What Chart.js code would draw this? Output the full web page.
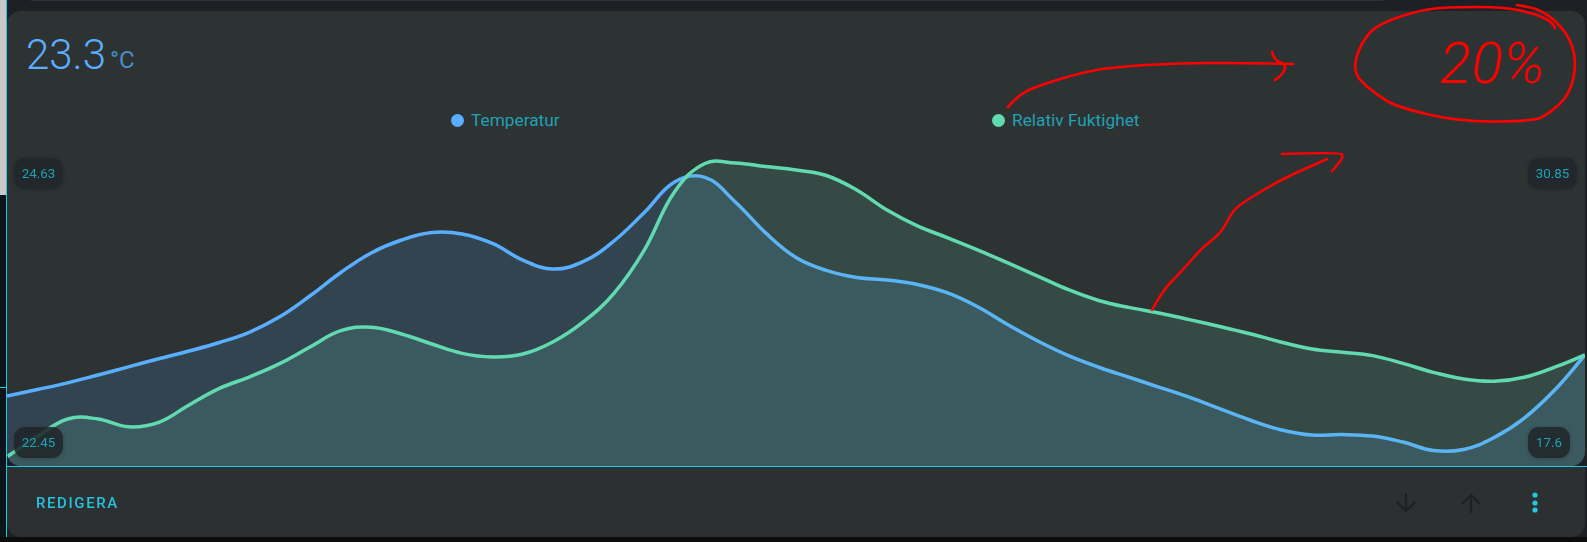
<!DOCTYPE html>
<html>
<head>
<meta charset="utf-8">
<title>Temperatur och Relativ Fuktighet</title>
<script src="https://cdn.jsdelivr.net/npm/chart.js@4/dist/chart.umd.min.js"></script>
<style>
html, body { margin: 0; padding: 0; width: 1587px; height: 542px; overflow: hidden; background: #0d0d0d; font-family: Roboto, sans-serif; }
#top { position: absolute; left: 7px; top: 0; width: 1580px; height: 467px; background: #1f2025; }
#topcard { position: absolute; left: 18px; top: -10px; width: 1364px; height: 11px; background: #2d3233; border-radius: 0 0 8px 8px; }
#strip { position: absolute; left: 0; top: 0; width: 6px; height: 537px; background: #0c151b; }
#stripTop { position: absolute; left: 0; top: 0; width: 6px; height: 195px; background: #c8c8c8; }
#stub { position: absolute; left: 0; top: 387px; width: 6px; height: 1px; background: #25c8e4; }
#vline { position: absolute; left: 6px; top: 0; width: 1px; height: 537px; background: #25c8e4; }
#card { position: absolute; left: 7px; top: 11px; width: 1578px; height: 455px; background: #2d3233; border-radius: 14px; overflow: hidden; }
#plot { position: absolute; left: 0; top: 139px; width: 1578px; height: 316px; }
#hline { position: absolute; left: 7px; top: 466px; width: 1580px; height: 1px; background: #25c8e4; }
#foot { position: absolute; left: 7px; top: 467px; width: 1578px; height: 70px; background: #2c3030; border-radius: 0 0 14px 14px; }
#footBack { position: absolute; left: 7px; top: 467px; width: 1580px; height: 70px; background: #1f2025; }
#edit { position: absolute; left: 36px; top: 495px; font-size: 15px; font-weight: 500; letter-spacing: 1.6px; line-height: 17px; color: #25c2e0; }
#value { position: absolute; left: 26px; top: 31px; font-size: 42px; font-weight: 300; line-height: 48px; color: #5aaeff; }
#unit { position: absolute; left: 110px; top: 46px; font-size: 24px; font-weight: 400; line-height: 28px; color: #4a8ec4; }
.legend { position: absolute; top: 111px; font-size: 17.3px; line-height: 19px; color: #22a0b4; white-space: nowrap; }
.legend i { position: absolute; left: -20px; top: 3px; width: 13px; height: 13px; border-radius: 50%; }
.bubble { position: absolute; height: 31px; line-height: 31px; text-align: center; font-size: 13.3px; color: #1ea2b6; background: rgba(32,37,41,.88); border-radius: 11px; box-shadow: 0 1px 4px rgba(0,0,0,.2); }
#marks { position: absolute; left: 0; top: 0; }
</style>
</head>
<body>
<div id="top"><div id="topcard"></div></div>
<div id="strip"></div><div id="stripTop"></div><div id="stub"></div>
<div id="card"><div id="plot"><canvas id="chart"></canvas></div></div>
<div id="footBack"></div>
<div id="foot"></div>
<div id="hline"></div>
<div id="vline"></div>
<div id="value"></div>
<div id="unit"></div>
<div id="legend"></div>
<div id="bubbles"></div>
<div id="edit">REDIGERA</div>
<svg id="marks" width="1587" height="542" xmlns="http://www.w3.org/2000/svg"></svg>
<script>
const seriesNames = ['Temperatur', 'Relativ Fuktighet'];
const temperature = [22.892, 22.943, 22.996, 23.058, 23.122, 23.186, 23.247, 23.314, 23.397, 23.519, 23.685, 23.867, 24.021, 24.123, 24.182, 24.171, 24.096, 23.965, 23.894, 23.954, 24.115, 24.340, 24.581, 24.617, 24.423, 24.179, 23.985, 23.883, 23.827, 23.808, 23.772, 23.705, 23.594, 23.452, 23.322, 23.208, 23.117, 23.038, 22.959, 22.880, 22.789, 22.699, 22.624, 22.584, 22.588, 22.576, 22.529, 22.462, 22.470, 22.564, 22.718, 22.939, 23.216];
const humidity = [17.60, 18.50, 19.29, 19.29, 18.94, 19.14, 19.92, 20.66, 21.18, 21.78, 22.53, 23.25, 23.40, 23.10, 22.65, 22.23, 22.07, 22.20, 22.75, 23.65, 24.92, 26.86, 29.47, 30.74, 30.76, 30.60, 30.445, 30.20, 29.55, 28.65, 27.94, 27.41, 26.86, 26.27, 25.67, 25.07, 24.59, 24.28, 24.03, 23.73, 23.42, 23.10, 22.73, 22.43, 22.28, 22.13, 21.78, 21.38, 21.08, 20.98, 21.16, 21.61, 22.16];
const temperatureTicks = ['24.63', '22.45'];
const humidityTicks = ['30.85', '17.6'];
const currentValue = '23.3';
const currentUnit = '°C';
const blue = '#5aaeff';
const green = '#62dab0';

const labels = temperature.map((_, i) => i);

new Chart(document.getElementById('chart'), {
    type: 'line',
    data: {
        labels: labels,
        datasets: [{
            label: seriesNames[1],
            data: humidity,
            yAxisID: 'yHum',
            borderColor: green,
            backgroundColor: 'rgba(98, 218, 176, 0.15)',
            borderWidth: 3.5,
            pointRadius: 0,
            tension: 0.4,
            fill: 'start'
        }, {
            label: seriesNames[0],
            data: temperature,
            yAxisID: 'yTemp',
            borderColor: blue,
            backgroundColor: 'rgba(90, 174, 255, 0.15)',
            borderWidth: 3.5,
            pointRadius: 0,
            tension: 0.4,
            fill: 'start'
        }]
    },
    options: {
        responsive: true,
        maintainAspectRatio: false,
        animation: false,
        layout: { padding: 0 },
        plugins: { legend: { display: false }, tooltip: { enabled: false } },
        scales: {
            x: { display: false, offset: false },
            yTemp: { display: false, min: 22.34, max: 24.833 },
            yHum: { display: false, min: 17.183, max: 31.343 }
        }
    }
});

// header, legend and the four min/max bubbles
document.getElementById('value').textContent = currentValue;
document.getElementById('unit').textContent = currentUnit;

const legend = document.getElementById('legend');
[[seriesNames[0], blue, 471], [seriesNames[1], green, 1012]].forEach(([name, color, left]) => {
    const el = document.createElement('div');
    el.className = 'legend';
    el.style.left = left + 'px';
    el.innerHTML = '<i style="background:' + color + '"></i>' + name;
    legend.appendChild(el);
});

const bubbles = document.getElementById('bubbles');
[[temperatureTicks[0], 14, 158, 49], [temperatureTicks[1], 14, 427, 49],
 [humidityTicks[0], 1528, 158, 49], [humidityTicks[1], 1528, 427, 42]].forEach(([text, left, top, width]) => {
    const el = document.createElement('div');
    el.className = 'bubble';
    el.style.cssText = 'left:' + left + 'px;top:' + top + 'px;width:' + width + 'px';
    el.textContent = text;
    bubbles.appendChild(el);
});

// footer icons and the hand drawn red notes on top of the screenshot
const svg = document.getElementById('marks');
function smooth(pts) {
    let d = 'M' + pts[0][0] + ' ' + pts[0][1];
    for (let i = 1; i < pts.length - 1; i++) {
        const mx = (pts[i][0] + pts[i + 1][0]) / 2;
        const my = (pts[i][1] + pts[i + 1][1]) / 2;
        d += ' Q' + pts[i][0] + ' ' + pts[i][1] + ' ' + mx + ' ' + my;
    }
    const last = pts[pts.length - 1];
    return d + ' L' + last[0] + ' ' + last[1];
}
function addPath(d, color, width) {
    const p = document.createElementNS('http://www.w3.org/2000/svg', 'path');
    p.setAttribute('d', d);
    p.setAttribute('fill', 'none');
    p.setAttribute('stroke', color);
    p.setAttribute('stroke-width', width);
    p.setAttribute('stroke-linecap', 'round');
    p.setAttribute('stroke-linejoin', 'round');
    svg.appendChild(p);
}
addPath('M1406 494 V510 M1397.500 502.500 L1406 511 L1414.500 502.500', '#1d2122', 2.2);
addPath('M1471 512 V495 M1462.500 503.500 L1471 495 L1479.500 503.500', '#1d2122', 2.2);
[495, 503, 510].forEach(y => {
    const c = document.createElementNS('http://www.w3.org/2000/svg', 'circle');
    c.setAttribute('cx', 1535); c.setAttribute('cy', y); c.setAttribute('r', 2.6);
    c.setAttribute('fill', '#25c8e4');
    svg.appendChild(c);
});

const red = '#ff0000';
addPath(smooth([[1008, 107], [1020, 93], [1047, 83], [1080, 73], [1113, 67], [1180, 63], [1247, 63], [1293, 64]]), red, 2.7);
addPath(smooth([[1272, 52], [1274, 60], [1287, 65], [1282, 75], [1275, 80]]), red, 2.7);
addPath(smooth([[1152, 310], [1163, 290], [1180, 273], [1202, 248], [1210, 242], [1223, 230], [1233, 210], [1247, 200], [1280, 180], [1327, 159]]), red, 2.5);
addPath(smooth([[1282, 154], [1340, 152], [1344, 157], [1332, 171]]), red, 2.5);
addPath(smooth([[1555, 28], [1553, 22], [1533, 13], [1503, 7], [1457, 7], [1423, 9], [1378, 24], [1363, 40], [1354, 63], [1357, 78], [1377, 95], [1397, 107], [1460, 122], [1533, 121], [1547, 115], [1570, 95], [1577, 60], [1567, 32], [1543, 10], [1517, 5]]), red, 2.7);

const note = document.createElementNS('http://www.w3.org/2000/svg', 'text');
note.setAttribute('x', 1440);
note.setAttribute('y', 83);
note.setAttribute('textLength', 105);
note.setAttribute('fill', red);
note.setAttribute('font-family', 'Roboto');
note.setAttribute('font-size', 58);
note.setAttribute('font-weight', 300);
note.setAttribute('font-style', 'italic');
note.textContent = '20%';
svg.appendChild(note);
</script>
</body>
</html>
